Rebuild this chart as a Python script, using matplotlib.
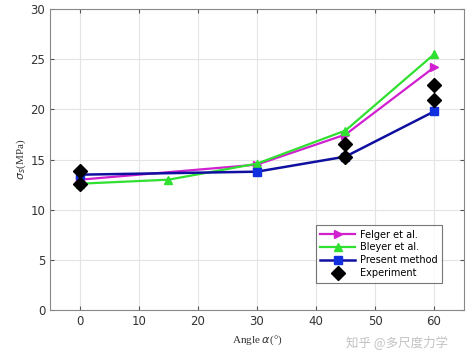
import matplotlib
matplotlib.use("Agg")
import matplotlib.pyplot as plt

angles_felger = [0, 30, 45, 60]
felger = [13.0, 14.5, 17.5, 24.2]
angles_bleyer = [0, 15, 30, 45, 60]
bleyer = [12.6, 13.0, 14.6, 17.9, 25.5]
angles_present = [0, 30, 45, 60]
present = [13.5, 13.8, 15.3, 19.8]
angles_exp = [0, 0, 45, 45, 60, 60]
experiment = [13.9, 12.6, 16.6, 15.3, 22.4, 20.9]

xticks = [0, 10, 20, 30, 40, 50, 60]
yticks = [0, 5, 10, 15, 20, 25, 30]

fig = plt.figure(figsize=(4.74, 3.52), dpi=100)
ax = fig.add_axes([0.106, 0.119, 0.872, 0.855])

ax.plot(angles_felger, felger, color='#d020d0', lw=1.6, marker='>', ms=6, label='Felger et al.')
ax.plot(angles_bleyer, bleyer, color='#30e030', lw=1.6, marker='^', ms=6, label='Bleyer et al.')
ax.plot(angles_present, present, color='#1010a0', lw=1.8, marker='s', ms=6,
        markerfacecolor='#1030e0', markeredgecolor='#1030e0', label='Present method')
ax.plot(angles_exp, experiment, ls='none', color='black', marker='D', ms=7, label='Experiment')

ax.set_xlim(-5, 65)
ax.set_ylim(0, 30)
ax.set_xticks(xticks)
ax.set_yticks(yticks)
ax.grid(True, color='#e4e4e4', lw=0.8)
ax.set_axisbelow(True)
ax.tick_params(direction='in', length=3, colors='#555555', labelsize=8.5, labelcolor='#333333',
               top=True, right=True)
for s in ax.spines.values():
    s.set_color('#888888')
    s.set_linewidth(0.8)

ax.set_xlabel('Angle $\\alpha$(°)', family='Liberation Serif', fontsize=8, color='#333333', labelpad=4)
ax.set_ylabel('$\\sigma_s$(MPa)', family='Liberation Serif', fontsize=8, color='#333333', labelpad=2)

leg = ax.legend(loc='lower right', bbox_to_anchor=(0.96, 0.075), fontsize=7,
                frameon=True, fancybox=False, edgecolor='#555555',
                handlelength=3.6, borderpad=0.45, labelspacing=0.3, handletextpad=0.5)
leg.get_frame().set_linewidth(0.8)

fig.text(0.73, 0.025, '知乎 @多尺度力学', family=['Noto Sans CJK SC', 'DejaVu Sans'],
         fontsize=9, color='#bbbbbb', alpha=0.9, ha='left', va='center')

fig.savefig('out.png', dpi=100)
